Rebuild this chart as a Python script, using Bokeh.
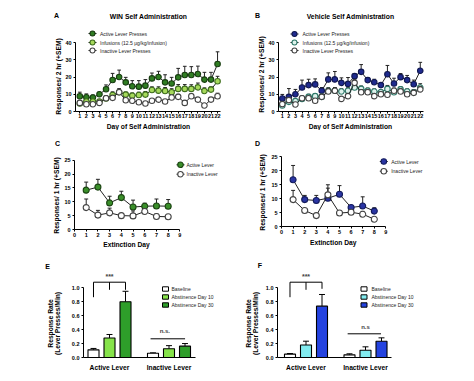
import math
from bokeh.plotting import figure
from bokeh.models import Range1d, Label, FixedTicker, NumeralTickFormatter
from bokeh.layouts import column, row
from bokeh.embed import file_html
from bokeh.resources import INLINE

FONT = "Liberation Sans"

# ---------------- data ----------------
days = list(range(1, 23))
win_active = [8.8, 8.3, 8.1, 10.0, 12.9, 18.3, 20.0, 16.9, 14.6, 14.4, 15.0, 19.2, 20.0, 16.9, 16.2, 19.8, 21.2, 21.2, 21.7, 18.5, 18.5, 27.5]
win_active_sem = [2.4, 1.9, 1.5, 1.2, 2.5, 3.8, 4.0, 2.9, 3.3, 3.5, 3.5, 3.1, 3.3, 4.4, 3.6, 5.2, 5.0, 4.8, 4.6, 4.2, 4.2, 7.1]
win_infusion = [4.6, 5.8, 5.8, 5.8, 7.5, 9.6, 11.2, 9.8, 9.2, 9.6, 9.8, 12.5, 12.1, 11.9, 11.2, 13.1, 13.1, 13.1, 14.0, 11.9, 12.7, 17.5]
win_infusion_sem = [1.0, 1.2, 1.0, 1.2, 1.5, 1.8, 2.0, 1.5, 1.5, 1.6, 1.8, 1.8, 2.2, 2.0, 2.0, 2.5, 2.5, 2.4, 2.5, 1.8, 1.6, 2.9]
win_inactive = [5.0, 4.2, 4.2, 5.0, 7.7, 7.9, 11.2, 6.5, 6.2, 5.4, 4.6, 6.2, 6.9, 5.8, 8.1, 8.5, 5.0, 8.8, 6.9, 3.5, 6.9, 8.8]
win_inactive_sem = [1.0, 0.8, 0.8, 1.0, 1.2, 1.2, 1.8, 1.0, 1.0, 0.9, 0.8, 1.0, 1.1, 1.0, 1.4, 1.5, 1.0, 1.5, 1.2, 0.8, 1.2, 1.8]

veh_active = [7.5, 8.5, 10.0, 13.9, 15.3, 15.7, 12.0, 18.6, 18.6, 16.6, 16.0, 20.5, 23.0, 18.2, 17.0, 15.3, 21.6, 16.2, 19.9, 18.2, 15.8, 23.6]
veh_active_sem = [2.4, 4.8, 2.8, 4.3, 3.4, 3.2, 1.9, 3.8, 4.6, 2.9, 3.7, 1.5, 4.2, 1.3, 1.7, 1.3, 5.1, 3.1, 2.1, 2.7, 2.4, 4.9]
veh_infusion = [3.5, 5.6, 6.0, 7.3, 8.5, 8.9, 8.5, 12.0, 12.0, 11.6, 12.0, 13.9, 13.1, 12.0, 11.6, 11.2, 13.1, 11.2, 12.8, 11.6, 11.2, 13.9]
veh_infusion_sem = [1.0, 1.2, 1.2, 1.4, 1.5, 1.5, 1.4, 1.8, 1.8, 1.6, 1.8, 1.6, 1.7, 1.6, 1.5, 1.4, 2.0, 1.6, 1.6, 1.5, 1.5, 2.2]
veh_inactive = [4.3, 6.6, 4.1, 7.7, 7.7, 6.2, 8.5, 11.6, 12.0, 7.3, 8.9, 16.6, 11.2, 11.2, 8.9, 10.0, 9.7, 12.0, 11.6, 10.0, 10.8, 12.8]
veh_inactive_sem = [1.0, 1.5, 1.0, 1.3, 1.3, 1.1, 1.4, 1.8, 1.8, 1.2, 1.5, 1.8, 1.5, 1.5, 1.3, 1.4, 1.4, 1.6, 1.6, 1.4, 1.5, 1.8]

ext_days = list(range(1, 9))
c_active = [14.2, 15.3, 9.6, 11.5, 8.1, 8.4, 8.5, 8.4]
c_active_sem = [2.9, 2.8, 2.4, 2.3, 2.5, 1.1, 2.5, 2.4]
c_inactive = [7.9, 5.2, 6.0, 5.0, 4.9, 6.5, 4.7, 4.6]
c_inactive_sem = [3.1, 1.7, 1.7, 0.8, 1.8, 1.0, 0.9, 0.8]
d_active = [16.7, 9.6, 9.3, 10.1, 11.5, 6.8, 7.3, 5.5]
d_active_sem = [5.1, 1.5, 1.8, 4.8, 3.1, 0.7, 3.3, 1.2]
d_inactive = [9.6, 5.7, 3.9, 11.3, 4.8, 5.1, 4.4, 2.6]
d_inactive_sem = [3.3, 0.6, 0.6, 2.4, 0.8, 0.6, 1.0, 0.4]

lever_groups = ["Active Lever", "Inactive Lever"]
phases = ["Baseline", "Abstinence Day 10", "Abstinence Day 30"]
e_active = [0.11, 0.28, 0.80]
e_active_sem = [0.02, 0.05, 0.15]
e_inactive = [0.062, 0.125, 0.163]
e_inactive_sem = [0.005, 0.045, 0.037]
f_active = [0.048, 0.18, 0.737]
f_active_sem = [0.009, 0.054, 0.167]
f_inactive = [0.038, 0.105, 0.234]
f_inactive_sem = [0.015, 0.048, 0.048]


# ---------------- helpers ----------------
def setup(fig_x, fig_y, w, h, axis_px, axis_py, x0, xs, ys):
    def X(px):
        return x0 + (px - axis_px) / xs

    def Y(py):
        return (axis_py - py) / ys

    p = figure(width=w, height=h,
               x_range=Range1d(X(fig_x), X(fig_x + w)),
               y_range=Range1d(Y(fig_y + h), Y(fig_y)),
               min_border=0, min_border_left=0, min_border_right=0,
               min_border_top=0, min_border_bottom=0,
               toolbar_location=None, output_backend="svg", tools="")
    p.xgrid.visible = False
    p.ygrid.visible = False
    p.outline_line_color = None
    p.background_fill_color = "white"
    p.border_fill_color = "white"
    p.yaxis.fixed_location = x0
    p.xaxis.fixed_location = 0
    for ax in (p.xaxis, p.yaxis):
        ax.axis_line_color = "black"
        ax.axis_line_width = 1
        ax.major_tick_line_color = "black"
        ax.major_tick_in = 0
        ax.major_tick_out = 2
        ax.minor_tick_line_color = None
        ax.major_label_text_font = FONT
        ax.major_label_text_font_style = "bold"
        ax.major_label_text_font_size = "5.5px"
        ax.major_label_text_color = "black"
    p.yaxis.major_label_standoff = 2
    p.xaxis.major_label_standoff = 0
    return p, X, Y


def text(p, X, Y, px, py, s, size="6.7px", bold=True, align="center", angle=0.0, color="black"):
    p.add_layout(Label(x=X(px), y=Y(py), text=s, text_font=FONT, text_font_size=size,
                       text_font_style="bold" if bold else "normal", text_align=align,
                       text_baseline="middle", angle=angle, text_color=color))


def series(p, x, y, sem, fill, edge, cap_half, size, line_color="#222222"):
    top = [a + b for a, b in zip(y, sem)]
    p.line(x, y, line_color=line_color, line_width=1)
    p.segment(x0=x, y0=y, x1=x, y1=top, line_color=line_color, line_width=1)
    p.segment(x0=[v - cap_half for v in x], y0=top, x1=[v + cap_half for v in x], y1=top,
              line_color=line_color, line_width=1)
    p.scatter(x, y, size=size, marker="circle", fill_color=fill, line_color=edge, line_width=1.1)


def legend_marker(p, X, Y, mx, my, tx, s, fill, edge, size):
    p.segment(x0=[X(mx - 4)], y0=[Y(my)], x1=[X(mx + 4)], y1=[Y(my)], line_color="#222222", line_width=1)
    p.scatter([X(mx)], [Y(my)], size=size, marker="circle", fill_color=fill, line_color=edge, line_width=1.1)
    text(p, X, Y, tx, my, s, size="5px", bold=False, align="left", color="#222222")


HALF = math.pi / 2

# ---------------- Panel A ----------------
pA, XA, YA = setup(0, 0, 237, 130, 75, 111, 0.3445, 6.56, 1.725)
pA.xaxis.ticker = FixedTicker(ticks=days)
pA.yaxis.ticker = FixedTicker(ticks=[0, 10, 20, 30, 40])
pA.xaxis.bounds = (0.3445, 22.45)
pA.yaxis.bounds = (0, 40)
series(pA, days, win_active, win_active_sem, "#2f7d22", "#173c10", 0.28, 5.5)
series(pA, days, win_infusion, win_infusion_sem, "#a6d95b", "#3f6e1e", 0.28, 5.5)
series(pA, days, win_inactive, win_inactive_sem, "white", "#444444", 0.28, 5.5)
text(pA, XA, YA, 56, 15, "A", size="7px")
text(pA, XA, YA, 148, 16, "WIN Self Administration", size="6.8px")
text(pA, XA, YA, 57.5, 76, "Responses/ 2 hr (+SEM)", angle=HALF)
text(pA, XA, YA, 148, 125.5, "Day of Self Administration")
legend_marker(pA, XA, YA, 92, 33, 99.5, "Active Lever Presses", "#2f7d22", "#173c10", 5)
legend_marker(pA, XA, YA, 92, 42, 99.5, "Infusions (12.5 μg/kg/infusion)", "#a6d95b", "#3f6e1e", 5)
legend_marker(pA, XA, YA, 92, 50, 99.5, "Inactive Lever Presses", "white", "#444444", 5)

# ---------------- Panel B ----------------
pB, XB, YB = setup(237, 0, 237, 130, 278, 111, 0.42, 6.57, 1.725)
pB.xaxis.ticker = FixedTicker(ticks=days)
pB.yaxis.ticker = FixedTicker(ticks=[0, 10, 20, 30, 40])
pB.xaxis.bounds = (0.42, 22.45)
pB.yaxis.bounds = (0, 40)
series(pB, days, veh_active, veh_active_sem, "#1f2a8e", "#10174f", 0.28, 5.5)
series(pB, days, veh_infusion, veh_infusion_sem, "#dff2ec", "#2f7a6a", 0.28, 5.5)
series(pB, days, veh_inactive, veh_inactive_sem, "white", "#444444", 0.28, 5.5)
text(pB, XB, YB, 257, 15, "B", size="7px")
text(pB, XB, YB, 350, 15.5, "Vehicle Self Administration", size="6.8px")
text(pB, XB, YB, 260.5, 74, "Responses/ 2 hr (+SEM)", angle=HALF)
text(pB, XB, YB, 350, 125.5, "Day of Self Administration")
legend_marker(pB, XB, YB, 294, 33.5, 302, "Active Lever Presses", "#1f2a8e", "#10174f", 5)
legend_marker(pB, XB, YB, 294, 42, 302, "Infusions (12.5 μg/kg/infusion)", "#dff2ec", "#2f7a6a", 5)
legend_marker(pB, XB, YB, 294, 50, 302, "Inactive Lever Presses", "white", "#444444", 5)

# ---------------- Panel C ----------------
pC, XC, YC = setup(0, 130, 237, 120, 74, 229, 0.0, 11.71, 2.772)
pC.xaxis.ticker = FixedTicker(ticks=list(range(0, 10)))
pC.yaxis.ticker = FixedTicker(ticks=[0, 5, 10, 15, 20, 25])
pC.xaxis.bounds = (0, 9)
pC.yaxis.bounds = (0, 25)
pC.xaxis.major_label_standoff = 1
series(pC, ext_days, c_active, c_active_sem, "#3a8f2a", "#1b4512", 0.17, 6)
series(pC, ext_days, c_inactive, c_inactive_sem, "white", "#444444", 0.17, 6)
text(pC, XC, YC, 57, 143, "C", size="7px")
text(pC, XC, YC, 56, 195, "Responses/ 1 hr (+SEM)", angle=HALF)
text(pC, XC, YC, 126, 243.7, "Extinction Day")
legend_marker(pC, XC, YC, 180, 164.3, 186, "Active Lever", "#3a8f2a", "#1b4512", 5.5)
legend_marker(pC, XC, YC, 180, 173.7, 186, "Inactive Lever", "white", "#444444", 5.5)

# ---------------- Panel D ----------------
pD, XD, YD = setup(237, 130, 237, 120, 281, 226, 0.0, 11.6, 2.8)
pD.xaxis.ticker = FixedTicker(ticks=list(range(0, 10)))
pD.yaxis.ticker = FixedTicker(ticks=[0, 5, 10, 15, 20, 25])
pD.xaxis.bounds = (0, 9)
pD.yaxis.bounds = (0, 25)
pD.xaxis.major_label_standoff = 1
series(pD, ext_days, d_active, d_active_sem, "#2a35a3", "#121a5c", 0.17, 6)
series(pD, ext_days, d_inactive, d_inactive_sem, "white", "#444444", 0.17, 6)
text(pD, XD, YD, 257, 143, "D", size="7px")
text(pD, XD, YD, 262, 192, "Responses/ 1 hr (+SEM)", angle=HALF)
text(pD, XD, YD, 332.7, 241.7, "Extinction Day")
legend_marker(pD, XD, YD, 383.3, 161, 390.7, "Active Lever", "#2a35a3", "#121a5c", 5.5)
legend_marker(pD, XD, YD, 383.3, 170.7, 390.7, "Inactive Lever", "white", "#444444", 5.5)


# ---------------- Bars E / F ----------------
def bars(p, active, active_sem, inactive, inactive_sem, colors):
    offs = [-0.269, 0.0, 0.269]
    for gi, (vals, sems) in enumerate([(active, active_sem), (inactive, inactive_sem)]):
        c = gi + 1
        xs = [c + o for o in offs]
        tops = [v + s for v, s in zip(vals, sems)]
        p.segment(x0=xs, y0=vals, x1=xs, y1=tops, line_color="black", line_width=1)
        p.segment(x0=[v - 0.05 for v in xs], y0=tops, x1=[v + 0.05 for v in xs], y1=tops,
                  line_color="black", line_width=1)
        p.vbar(x=xs, top=vals, bottom=0, width=0.185, fill_color=colors, line_color="black", line_width=1.1)
    p.xaxis.ticker = FixedTicker(ticks=[1, 2])
    p.xaxis.major_label_overrides = {1: lever_groups[0], 2: lever_groups[1]}
    p.xaxis.major_tick_out = 0
    p.xaxis.major_label_text_font_size = "6.7px"
    p.xaxis.major_label_standoff = 6
    p.yaxis.ticker = FixedTicker(ticks=[0, 0.2, 0.4, 0.6, 0.8, 1.0])
    p.yaxis.formatter = NumeralTickFormatter(format="0.0")
    p.yaxis.bounds = (0, 1.0)


def legend_boxes(p, X, Y, bx, tx, rows, colors):
    for r, c, s in zip(rows, colors, phases):
        p.quad(left=[X(bx - 3)], right=[X(bx + 3)], bottom=[Y(r + 2.2)], top=[Y(r - 2.2)],
               fill_color=c, line_color="black", line_width=1)
        text(p, X, Y, tx, r, s, size="5px", bold=False, align="left", color="#222222")


def bracket(p, Y, ytop_px, drops_px, x_pos):
    yt = Y(ytop_px)
    p.segment(x0=[x_pos[0]], y0=[yt], x1=[x_pos[2]], y1=[yt], line_color="black", line_width=1)
    for xp, d in zip(x_pos, drops_px):
        p.segment(x0=[xp], y0=[yt], x1=[xp], y1=[Y(d)], line_color="black", line_width=1)


e_colors = ["white", "#86e34a", "#2e9e2a"]
pE, XE, YE = setup(0, 250, 237, 131, 83, 357, 0.563, 59.5, 69.7)
pE.xaxis.bounds = (0.563, 2.445)
bars(pE, e_active, e_active_sem, e_inactive, e_inactive_sem, e_colors)
bracket(pE, YE, 281.7, [296.7, 289.3, 289.3], [0.731, 1.0, 1.269])
pE.add_layout(Label(x=1.0, y=YE(275.5), text="***", text_font=FONT, text_font_size="7px",
                    text_font_style="bold", text_align="center", text_baseline="middle"))
pE.segment(x0=[1.69], y0=[YE(338.3)], x1=[2.27], y1=[YE(338.3)], line_color="black", line_width=1)
pE.add_layout(Label(x=1.93, y=YE(330.7), text="n.s.", text_font=FONT, text_font_size="6px",
                    text_font_style="bold", text_align="center", text_baseline="middle"))
text(pE, XE, YE, 47, 265.5, "E", size="7px")
text(pE, XE, YE, 50, 323, "Response Rate", angle=HALF)
text(pE, XE, YE, 57, 323, "(Lever Presses/Min)", angle=HALF)
legend_boxes(pE, XE, YE, 165, 171, [288.5, 296.5, 304.5], e_colors)

f_colors = ["white", "#82ecf0", "#2443e0"]
pF, XF, YF = setup(237, 250, 237, 131, 277, 357, 0.521, 59.5, 69.7)
pF.xaxis.bounds = (0.521, 2.43)
bars(pF, f_active, f_active_sem, f_inactive, f_inactive_sem, f_colors)
bracket(pF, YF, 281.7, [296.7, 289.3, 288.3], [0.731, 1.0, 1.269])
pF.add_layout(Label(x=1.0, y=YF(275.5), text="***", text_font=FONT, text_font_size="7px",
                    text_font_style="bold", text_align="center", text_baseline="middle"))
pF.segment(x0=[1.70], y0=[YF(333.3)], x1=[2.26], y1=[YF(333.3)], line_color="black", line_width=1)
pF.add_layout(Label(x=2.0, y=YF(326.5), text="n.s", text_font=FONT, text_font_size="6px",
                    text_font_style="bold", text_align="center", text_baseline="middle"))
text(pF, XF, YF, 259.5, 265, "F", size="7px")
text(pF, XF, YF, 248, 323, "Response Rate", angle=HALF)
text(pF, XF, YF, 255, 323, "(Lever Presses/Min)", angle=HALF)
legend_boxes(pF, XF, YF, 363.5, 371, [288.5, 296.5, 304.5], f_colors)

layout = column(row(pA, pB), row(pC, pD), row(pE, pF))
open("out.html", "w").write(file_html(layout, INLINE))
